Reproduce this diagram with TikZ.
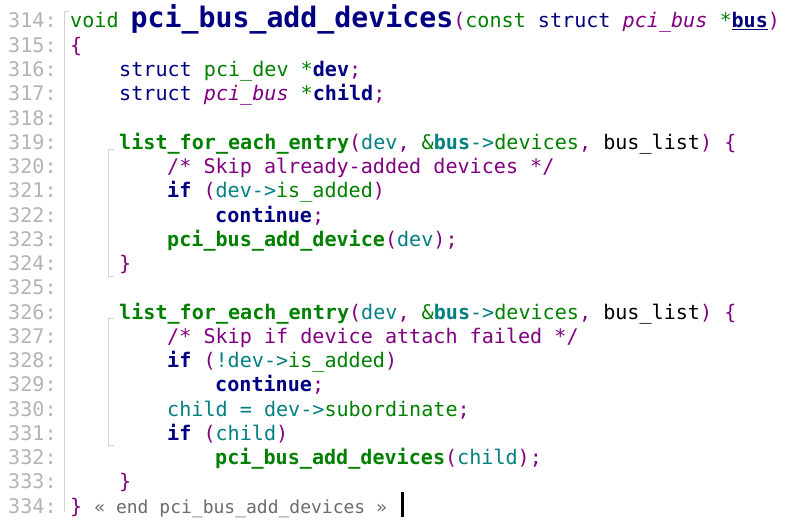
\documentclass[tikz,border=0pt]{standalone}
\usepackage{fontspec}
\setmonofont{DejaVu Sans Mono}
\definecolor{kn}{HTML}{000080}
\definecolor{gr}{HTML}{008000}
\definecolor{pu}{HTML}{800080}
\definecolor{te}{HTML}{008080}
\definecolor{gy}{HTML}{B4B4B4}
\definecolor{gl}{HTML}{D4D4D4}
\newcommand\K[1]{\textcolor{kn}{#1}}
\newcommand\KB[1]{\textcolor{kn}{\bfseries #1}}
\newcommand\G[1]{\textcolor{gr}{#1}}
\newcommand\GB[1]{\textcolor{gr}{\bfseries #1}}
\newcommand\PP[1]{\textcolor{pu}{#1}}
\newcommand\PI[1]{\textcolor{pu}{\itshape #1}}
\newcommand\T[1]{\textcolor{te}{#1}}
\newcommand\TB[1]{\textcolor{te}{\bfseries #1}}
\begin{document}
\begin{tikzpicture}[x=1pt,y=1pt,
  code/.style={anchor=base west,inner sep=0pt,font=\ttfamily\fontsize{20.1}{24}\selectfont},
  lnum/.style={code,text=gy},
  guide/.style={draw=gl,line width=1pt}]
\useasboundingbox[fill=white] (0,0) rectangle (789,-519);
\foreach \n [count=\i from 0] in {314,...,334}{
  \node[lnum] (n\n) at (8,{-28-24.25*\i}) {\n:};
}
\draw[guide] (69,-12) -- (64,-12) -- (64,-512);
\draw[guide] (114,-149) -- (108,-149) -- (108,-276) -- (114,-276);
\draw[guide] (114,-318) -- (108,-318) -- (108,-445) -- (114,-445);
\def\L#1#2#3{\node[code] (l#1) at (#2,{-28-24.25*(#1-314)}) {#3};}
\L{314}{70}{\G{void} \KB{\fontsize{28.2}{24}\selectfont pci\_bus\_add\_devices}\PP{(}\G{const} \K{struct} \PI{pci\_bus} \G{*}\KB{\underline{bus}}\PP{)}}
\L{315}{70}{\PP{\{}}
\L{316}{119}{\K{struct} \G{pci\_dev} \G{*}\KB{dev}\PP{;}}
\L{317}{119}{\K{struct} \PI{pci\_bus} \G{*}\KB{child}\PP{;}}
\L{319}{119}{\GB{list\_for\_each\_entry}\PP{(}\T{dev}\PP{,} \G{\&}\TB{bus}\T{->}\G{devices}\PP{,} bus\_list\PP{)} \PP{\{}}
\L{320}{167}{\PP{/* Skip already-added devices */}}
\L{321}{167}{\KB{if} \PP{(}\T{dev->}\G{is\_added}\PP{)}}
\L{322}{215}{\KB{continue}\PP{;}}
\L{323}{167}{\GB{pci\_bus\_add\_device}\PP{(}\T{dev}\PP{);}}
\L{324}{119}{\PP{\}}}
\L{326}{119}{\GB{list\_for\_each\_entry}\PP{(}\T{dev}\PP{,} \G{\&}\TB{bus}\T{->}\G{devices}\PP{,} bus\_list\PP{)} \PP{\{}}
\L{327}{167}{\PP{/* Skip if device attach failed */}}
\L{328}{167}{\KB{if} \PP{(}\T{!dev->}\G{is\_added}\PP{)}}
\L{329}{215}{\KB{continue}\PP{;}}
\L{330}{167}{\T{child = dev->}\G{subordinate}\PP{;}}
\L{331}{167}{\KB{if} \PP{(}\T{child}\PP{)}}
\L{332}{215}{\GB{pci\_bus\_add\_devices}\PP{(}\T{child}\PP{);}}
\L{333}{119}{\PP{\}}}
\L{334}{70}{\PP{\}} \textcolor{gy!60!black}{\fontsize{18}{24}\selectfont « end pci\_bus\_add\_devices »}}
\fill[black] (401,-492) rectangle (404,-517);
\end{tikzpicture}
\end{document}
